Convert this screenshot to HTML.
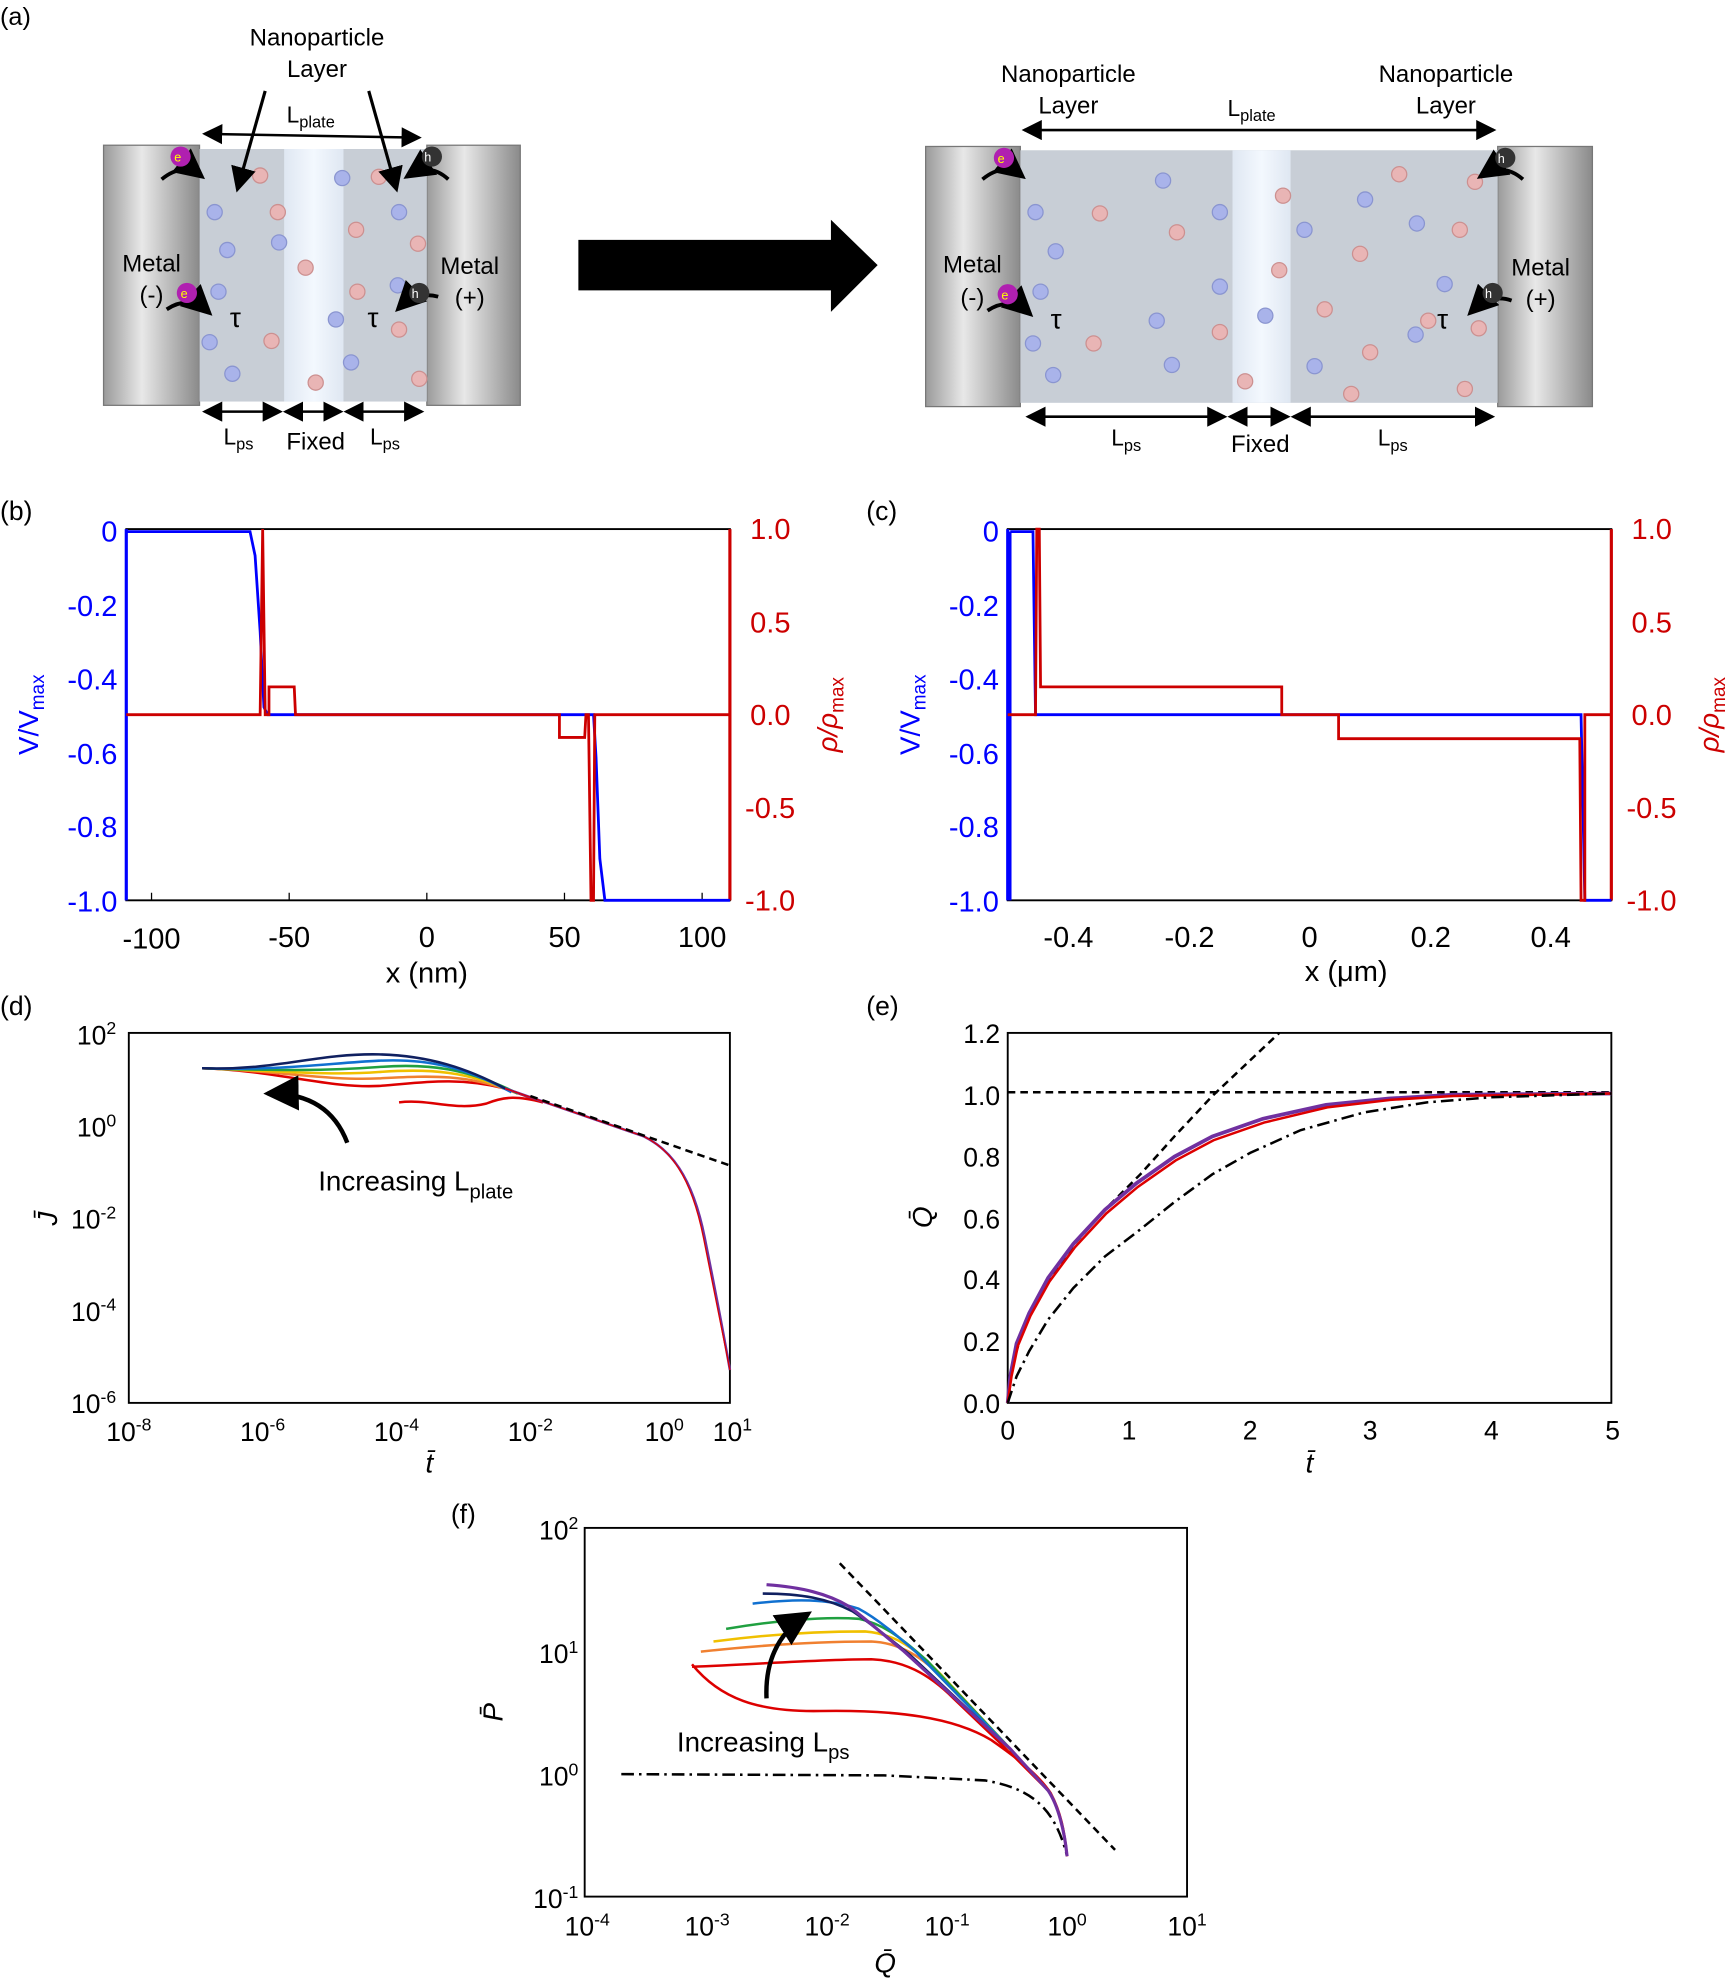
<!DOCTYPE html>
<html><head><meta charset="utf-8"><style>
html,body{margin:0;padding:0;background:#fff}
svg{display:block}
text{font-family:"Liberation Sans",sans-serif}
</style></head><body>
<svg width="1725" height="1985" viewBox="0 0 1366 1572" preserveAspectRatio="none" xmlns="http://www.w3.org/2000/svg">
<defs>
<linearGradient id="mL" x1="0" x2="1"><stop offset="0" stop-color="#9a9a9a"/><stop offset="0.4" stop-color="#e8e8e8"/><stop offset="1" stop-color="#8a8a8a"/></linearGradient>
<linearGradient id="strip" x1="0" x2="1"><stop offset="0" stop-color="#dfe7f2"/><stop offset="0.5" stop-color="#f3f8fe"/><stop offset="1" stop-color="#dfe7f2"/></linearGradient>
<marker id="ah" markerWidth="8" markerHeight="8" refX="7" refY="4" orient="auto"><path d="M0,0 L8,4 L0,8 z" fill="#000"/></marker>
<marker id="ah2" markerWidth="8" markerHeight="8" refX="7" refY="4" orient="auto-start-reverse"><path d="M0,0 L8,4 L0,8 z" fill="#000"/></marker>
</defs>
<rect width="1366" height="1572" fill="#fff"/>

<!-- (a) -->
<text x="0" y="20" font-size="20">(a)</text>
<rect x="82" y="115" width="76" height="206" fill="url(#mL)" stroke="#777"/>
<rect x="338" y="115" width="74" height="206" fill="url(#mL)" stroke="#777"/>
<rect x="158" y="118" width="180" height="200" fill="#c8ced6"/>
<rect x="225" y="118" width="47" height="200" fill="url(#strip)"/>
<g fill="#a9b3ea" stroke="#8a95d0">
<circle cx="170" cy="168" r="6"/><circle cx="180" cy="198" r="6"/><circle cx="221" cy="192" r="6"/><circle cx="173" cy="231" r="6"/><circle cx="166" cy="271" r="6"/><circle cx="184" cy="296" r="6"/><circle cx="271" cy="141" r="6"/><circle cx="266" cy="253" r="6"/><circle cx="316" cy="168" r="6"/><circle cx="278" cy="287" r="6"/><circle cx="315" cy="226" r="6"/>
</g>
<g fill="#e9b5b5" stroke="#cc9090">
<circle cx="206" cy="139" r="6"/><circle cx="220" cy="168" r="6"/><circle cx="242" cy="212" r="6"/><circle cx="215" cy="270" r="6"/><circle cx="250" cy="303" r="6"/><circle cx="282" cy="182" r="6"/><circle cx="331" cy="193" r="6"/><circle cx="283" cy="231" r="6"/><circle cx="316" cy="261" r="6"/><circle cx="332" cy="300" r="6"/><circle cx="300" cy="140" r="6"/>
</g>
<text x="120" y="215" font-size="19" text-anchor="middle">Metal</text><text x="120" y="240" font-size="19" text-anchor="middle">(-)</text>
<text x="372" y="217" font-size="19" text-anchor="middle">Metal</text><text x="372" y="242" font-size="19" text-anchor="middle">(+)</text>
<text x="251" y="36" font-size="19" text-anchor="middle">Nanoparticle</text><text x="251" y="61" font-size="19" text-anchor="middle">Layer</text>
<line x1="210" y1="72" x2="188" y2="150" stroke="#000" stroke-width="2.5" marker-end="url(#ah)"/>
<line x1="292" y1="72" x2="314" y2="150" stroke="#000" stroke-width="2.5" marker-end="url(#ah)"/>
<line x1="162" y1="106" x2="332" y2="109" stroke="#000" stroke-width="2" marker-start="url(#ah2)" marker-end="url(#ah2)"/>
<text x="227" y="97" font-size="18">L<tspan font-size="13" dy="4">plate</tspan></text>
<line x1="162" y1="326" x2="222" y2="326" stroke="#000" stroke-width="2" marker-start="url(#ah2)" marker-end="url(#ah2)"/>
<line x1="226" y1="326" x2="270" y2="326" stroke="#000" stroke-width="2" marker-start="url(#ah2)" marker-end="url(#ah2)"/>
<line x1="274" y1="326" x2="334" y2="326" stroke="#000" stroke-width="2" marker-start="url(#ah2)" marker-end="url(#ah2)"/>
<text x="177" y="352" font-size="18">L<tspan font-size="13" dy="4">ps</tspan></text>
<text x="250" y="356" font-size="19" text-anchor="middle">Fixed</text>
<text x="293" y="352" font-size="18">L<tspan font-size="13" dy="4">ps</tspan></text>
<g font-size="22"><text x="182" y="259">τ</text><text x="291" y="259">τ</text></g>
<g fill="none" stroke="#000" stroke-width="3">
<path d="M128,142 Q145,128 160,140" marker-end="url(#ah)"/><path d="M132,245 Q150,233 166,248" marker-end="url(#ah)"/>
<path d="M355,142 Q340,128 322,140" marker-end="url(#ah)"/><path d="M347,235 Q330,230 315,245" marker-end="url(#ah)"/>
</g>
<circle cx="143" cy="124" r="8" fill="#b020b0"/><circle cx="148" cy="232" r="8" fill="#b020b0"/>
<circle cx="342" cy="124" r="8" fill="#333"/><circle cx="332" cy="232" r="8" fill="#333"/>
<g fill="#ff0" font-size="10"><text x="138" y="128">e</text><text x="143" y="236">e</text></g>
<g fill="#fff" font-size="10"><text x="336" y="128">h</text><text x="326" y="236">h</text></g>

<path d="M458,190 L658,190 L658,174 L695,210 L658,247 L658,230 L458,230 Z" fill="#000"/>

<rect x="733" y="116" width="75" height="206" fill="url(#mL)" stroke="#777"/>
<rect x="1186" y="116" width="75" height="206" fill="url(#mL)" stroke="#777"/>
<rect x="808" y="119" width="378" height="200" fill="#c8ced6"/>
<rect x="976" y="119" width="46" height="200" fill="url(#strip)"/>
<g fill="#a9b3ea" stroke="#8a95d0">
<circle cx="820" cy="168" r="6"/><circle cx="836" cy="199" r="6"/><circle cx="824" cy="231" r="6"/><circle cx="818" cy="272" r="6"/><circle cx="834" cy="297" r="6"/><circle cx="921" cy="143" r="6"/><circle cx="966" cy="168" r="6"/><circle cx="966" cy="227" r="6"/><circle cx="916" cy="254" r="6"/><circle cx="928" cy="289" r="6"/><circle cx="1002" cy="250" r="6"/><circle cx="1033" cy="182" r="6"/><circle cx="1081" cy="158" r="6"/><circle cx="1122" cy="177" r="6"/><circle cx="1144" cy="225" r="6"/><circle cx="1121" cy="265" r="6"/><circle cx="1041" cy="290" r="6"/>
</g>
<g fill="#e9b5b5" stroke="#cc9090">
<circle cx="871" cy="169" r="6"/><circle cx="932" cy="184" r="6"/><circle cx="866" cy="272" r="6"/><circle cx="966" cy="263" r="6"/><circle cx="1016" cy="155" r="6"/><circle cx="1013" cy="214" r="6"/><circle cx="986" cy="302" r="6"/><circle cx="1077" cy="201" r="6"/><circle cx="1049" cy="245" r="6"/><circle cx="1085" cy="279" r="6"/><circle cx="1070" cy="312" r="6"/><circle cx="1108" cy="138" r="6"/><circle cx="1156" cy="182" r="6"/><circle cx="1131" cy="254" r="6"/><circle cx="1160" cy="308" r="6"/><circle cx="1168" cy="144" r="6"/><circle cx="1171" cy="260" r="6"/>
</g>
<text x="770" y="216" font-size="19" text-anchor="middle">Metal</text><text x="770" y="242" font-size="19" text-anchor="middle">(-)</text>
<text x="1220" y="218" font-size="19" text-anchor="middle">Metal</text><text x="1220" y="243" font-size="19" text-anchor="middle">(+)</text>
<text x="846" y="65" font-size="19" text-anchor="middle">Nanoparticle</text><text x="846" y="90" font-size="19" text-anchor="middle">Layer</text>
<text x="1145" y="65" font-size="19" text-anchor="middle">Nanoparticle</text><text x="1145" y="90" font-size="19" text-anchor="middle">Layer</text>
<line x1="811" y1="103" x2="1183" y2="103" stroke="#000" stroke-width="2" marker-start="url(#ah2)" marker-end="url(#ah2)"/>
<text x="972" y="92" font-size="18">L<tspan font-size="13" dy="4">plate</tspan></text>
<line x1="814" y1="330" x2="970" y2="330" stroke="#000" stroke-width="2" marker-start="url(#ah2)" marker-end="url(#ah2)"/>
<line x1="974" y1="330" x2="1020" y2="330" stroke="#000" stroke-width="2" marker-start="url(#ah2)" marker-end="url(#ah2)"/>
<line x1="1024" y1="330" x2="1182" y2="330" stroke="#000" stroke-width="2" marker-start="url(#ah2)" marker-end="url(#ah2)"/>
<text x="880" y="353" font-size="18">L<tspan font-size="13" dy="4">ps</tspan></text>
<text x="998" y="358" font-size="19" text-anchor="middle">Fixed</text>
<text x="1091" y="353" font-size="18">L<tspan font-size="13" dy="4">ps</tspan></text>
<g font-size="22"><text x="832" y="260">τ</text><text x="1138" y="260">τ</text></g>
<g fill="none" stroke="#000" stroke-width="3">
<path d="M778,142 Q795,128 810,140" marker-end="url(#ah)"/><path d="M782,246 Q800,234 816,249" marker-end="url(#ah)"/>
<path d="M1206,142 Q1190,128 1172,140" marker-end="url(#ah)"/><path d="M1197,238 Q1180,232 1164,248" marker-end="url(#ah)"/>
</g>
<circle cx="795" cy="125" r="8" fill="#b020b0"/><circle cx="798" cy="233" r="8" fill="#b020b0"/>
<circle cx="1192" cy="125" r="8" fill="#333"/><circle cx="1182" cy="232" r="8" fill="#333"/>
<g fill="#ff0" font-size="10"><text x="790" y="129">e</text><text x="793" y="237">e</text></g>
<g fill="#fff" font-size="10"><text x="1186" y="129">h</text><text x="1176" y="236">h</text></g>

<!-- (b) -->
<text x="0" y="412" font-size="21">(b)</text>
<rect x="100" y="419" width="478" height="294" fill="none" stroke="#000" stroke-width="1.5"/>
<line x1="100" y1="419" x2="100" y2="713" stroke="#00f" stroke-width="2.5"/>
<line x1="578" y1="419" x2="578" y2="713" stroke="#c00" stroke-width="2.5"/>
<g font-size="23" fill="#00f" text-anchor="end"><text x="93" y="429">0</text><text x="93" y="488">-0.2</text><text x="93" y="546">-0.4</text><text x="93" y="605">-0.6</text><text x="93" y="663">-0.8</text><text x="93" y="722">-1.0</text></g>
<g font-size="23" fill="#c00"><text x="594" y="427">1.0</text><text x="594" y="501">0.5</text><text x="594" y="574">0.0</text><text x="590" y="648">-0.5</text><text x="590" y="721">-1.0</text></g>
<g font-size="23" text-anchor="middle"><text x="120" y="751">-100</text><text x="229" y="750">-50</text><text x="338" y="750">0</text><text x="447" y="750">50</text><text x="556" y="750">100</text><text x="338" y="778">x (nm)</text></g>
<text transform="translate(30,566) rotate(-90)" font-size="22" fill="#00f" text-anchor="middle">V/V<tspan font-size="15" dy="5">max</tspan></text>
<text transform="translate(663,566) rotate(-90)" font-size="22" fill="#c00" text-anchor="middle" font-style="italic">ρ/ρ<tspan font-size="15" dy="5" font-style="normal">max</tspan></text>
<g stroke="#000" stroke-width="1"><line x1="120" y1="713" x2="120" y2="707"/><line x1="229" y1="713" x2="229" y2="707"/><line x1="338" y1="713" x2="338" y2="707"/><line x1="447" y1="713" x2="447" y2="707"/><line x1="556" y1="713" x2="556" y2="707"/></g>
<polyline fill="none" stroke="#00f" stroke-width="2.2" points="100,421 198,421 202,440 206,500 209,560 212,566 470,566 472,600 475,680 479,713 578,713"/>
<polyline fill="none" stroke="#c00" stroke-width="2.2" points="100,566 206,566 208,419 210,566 213,566 213,544 233,544 234,566 443,566 443,584 463,584 464,566 466,566 468,713 470,713 471,566 578,566"/>

<!-- (c) -->
<text x="686" y="412" font-size="21">(c)</text>
<rect x="798" y="419" width="478" height="294" fill="none" stroke="#000" stroke-width="1.5"/>
<line x1="798" y1="419" x2="798" y2="713" stroke="#00f" stroke-width="2.5"/>
<line x1="1276" y1="419" x2="1276" y2="713" stroke="#c00" stroke-width="2.5"/>
<g font-size="23" fill="#00f" text-anchor="end"><text x="791" y="429">0</text><text x="791" y="488">-0.2</text><text x="791" y="546">-0.4</text><text x="791" y="605">-0.6</text><text x="791" y="663">-0.8</text><text x="791" y="722">-1.0</text></g>
<g font-size="23" fill="#c00"><text x="1292" y="427">1.0</text><text x="1292" y="501">0.5</text><text x="1292" y="574">0.0</text><text x="1288" y="648">-0.5</text><text x="1288" y="721">-1.0</text></g>
<g font-size="23" text-anchor="middle"><text x="846" y="750">-0.4</text><text x="942" y="750">-0.2</text><text x="1037" y="750">0</text><text x="1133" y="750">0.2</text><text x="1228" y="750">0.4</text><text x="1066" y="777">x (μm)</text></g>
<text transform="translate(728,566) rotate(-90)" font-size="22" fill="#00f" text-anchor="middle">V/V<tspan font-size="15" dy="5">max</tspan></text>
<text transform="translate(1361,566) rotate(-90)" font-size="22" fill="#c00" text-anchor="middle" font-style="italic">ρ/ρ<tspan font-size="15" dy="5" font-style="normal">max</tspan></text>
<polyline fill="none" stroke="#00f" stroke-width="2.2" points="800,421 818,421 820,566 1252,566 1255,713 1276,713"/>
<line x1="800" y1="421" x2="800" y2="713" stroke="#00f" stroke-width="2"/>
<polyline fill="none" stroke="#c00" stroke-width="2.2" points="798,566 820,566 821,419 823,419 824,544 1015,544 1015,566 1060,566 1060,585 1251,585 1252,713 1255,713 1255,566 1276,566"/>

<!-- (d) -->
<text x="0" y="804" font-size="21">(d)</text>
<rect x="102" y="818" width="476" height="293" fill="none" stroke="#000" stroke-width="1.5"/>
<g font-size="21" text-anchor="end"><text x="92" y="827">10<tspan font-size="14" dy="-8">2</tspan></text><text x="92" y="900">10<tspan font-size="14" dy="-8">0</tspan></text><text x="92" y="973">10<tspan font-size="14" dy="-8">-2</tspan></text><text x="92" y="1046">10<tspan font-size="14" dy="-8">-4</tspan></text><text x="92" y="1119">10<tspan font-size="14" dy="-8">-6</tspan></text></g>
<g font-size="21" text-anchor="middle"><text x="102" y="1141">10<tspan font-size="14" dy="-8">-8</tspan></text><text x="208" y="1141">10<tspan font-size="14" dy="-8">-6</tspan></text><text x="314" y="1141">10<tspan font-size="14" dy="-8">-4</tspan></text><text x="420" y="1141">10<tspan font-size="14" dy="-8">-2</tspan></text><text x="526" y="1141">10<tspan font-size="14" dy="-8">0</tspan></text><text x="580" y="1141">10<tspan font-size="14" dy="-8">1</tspan></text></g>
<text x="340" y="1166" font-size="22" font-style="italic" text-anchor="middle">t̄</text>
<text transform="translate(45,965) rotate(-90)" font-size="22" font-style="italic" text-anchor="middle">J̄</text>
<g fill="none" stroke-width="2">
<path d="M316,873 C340,870 360,880 385,874 C400,868 410,868 430,873" stroke="#d00"/>
<path d="M160,846 C220,848 260,862 300,860 C330,858 360,852 400,862 L430,873" stroke="#d00"/>
<path d="M160,846 C220,848 260,856 300,854 C340,852 370,850 410,866" stroke="#f08030"/>
<path d="M160,846 C220,848 260,852 300,849 C340,846 370,848 410,866" stroke="#f0c000"/>
<path d="M160,846 C220,848 260,848 300,845 C340,842 370,846 410,866" stroke="#20a040"/>
<path d="M160,846 C220,848 260,842 300,840 C340,838 370,846 405,865" stroke="#1070d0"/>
<path d="M160,846 C220,848 250,834 300,835 C340,836 370,846 400,862" stroke="#102060"/>
<path d="M400,862 L510,900 C530,910 548,930 558,980 C566,1020 572,1050 578,1085" stroke="#7030a0"/>
<path d="M400,862 L510,900 C530,910 547,930 557,980 C565,1020 571,1050 578,1085" stroke="#d00" stroke-width="1"/>
</g>
<line x1="420" y1="868" x2="578" y2="923" stroke="#000" stroke-width="2" stroke-dasharray="6,4"/>
<path d="M275,905 Q260,865 212,866" fill="none" stroke="#000" stroke-width="3.5" marker-end="url(#ah)"/>
<text x="252" y="943" font-size="22">Increasing L<tspan font-size="16" dy="6">plate</tspan></text>

<!-- (e) -->
<text x="686" y="804" font-size="21">(e)</text>
<rect x="798" y="818" width="478" height="293" fill="none" stroke="#000" stroke-width="1.5"/>
<g font-size="21" text-anchor="end"><text x="792" y="826">1.2</text><text x="792" y="875">1.0</text><text x="792" y="924">0.8</text><text x="792" y="973">0.6</text><text x="792" y="1021">0.4</text><text x="792" y="1070">0.2</text><text x="792" y="1119">0.0</text></g>
<g font-size="21" text-anchor="middle"><text x="798" y="1140">0</text><text x="894" y="1140">1</text><text x="990" y="1140">2</text><text x="1085" y="1140">3</text><text x="1181" y="1140">4</text><text x="1277" y="1140">5</text></g>
<text x="1037" y="1166" font-size="22" font-style="italic" text-anchor="middle">t̄</text>
<text transform="translate(738,964) rotate(-90)" font-size="22" font-style="italic" text-anchor="middle">Q̄</text>
<line x1="798" y1="865" x2="1276" y2="865" stroke="#000" stroke-width="2" stroke-dasharray="6,4"/>
<path d="M798,1111 L802,1080 L808,1060 L818,1036 L832,1011 L851,985 L875,958 L903,930 L930,900 L960,868 L1013,818" fill="none" stroke="#000" stroke-width="2" stroke-dasharray="6,4"/>
<polyline fill="none" stroke="#7030a0" stroke-width="3" points="798,1111 800,1090 805,1064 815,1040 830,1012 850,985 875,958 900,937 930,916 960,900 1000,886 1050,875 1100,870 1150,867 1276,866"/>
<polyline fill="none" stroke="#d00" stroke-width="2" points="798,1111 801,1090 806,1066 816,1042 831,1015 851,988 876,961 901,940 931,919 961,903 1001,889 1051,877 1101,871 1151,868 1276,866"/>
<polyline fill="none" stroke="#000" stroke-width="2" stroke-dasharray="10,4,2,4" points="798,1111 805,1090 815,1070 830,1045 850,1020 875,995 900,976 930,952 960,930 990,913 1030,895 1080,881 1130,873 1180,869 1276,866"/>

<!-- (f) -->
<text x="357" y="1206" font-size="21">(f)</text>
<rect x="463" y="1210" width="477" height="292" fill="none" stroke="#000" stroke-width="1.5"/>
<g font-size="21" text-anchor="end"><text x="458" y="1219">10<tspan font-size="14" dy="-8">2</tspan></text><text x="458" y="1317">10<tspan font-size="14" dy="-8">1</tspan></text><text x="458" y="1414">10<tspan font-size="14" dy="-8">0</tspan></text><text x="458" y="1511">10<tspan font-size="14" dy="-8">-1</tspan></text></g>
<g font-size="21" text-anchor="middle"><text x="465" y="1533">10<tspan font-size="14" dy="-8">-4</tspan></text><text x="560" y="1533">10<tspan font-size="14" dy="-8">-3</tspan></text><text x="655" y="1533">10<tspan font-size="14" dy="-8">-2</tspan></text><text x="750" y="1533">10<tspan font-size="14" dy="-8">-1</tspan></text><text x="845" y="1533">10<tspan font-size="14" dy="-8">0</tspan></text><text x="940" y="1533">10<tspan font-size="14" dy="-8">1</tspan></text></g>
<text x="701" y="1562" font-size="22" font-style="italic" text-anchor="middle">Q̄</text>
<text transform="translate(398,1356) rotate(-90)" font-size="22" font-style="italic" text-anchor="middle">P̄</text>
<line x1="665" y1="1238" x2="883" y2="1465" stroke="#000" stroke-width="2" stroke-dasharray="6,4"/>
<path d="M492,1405 L700,1406 L780,1410 C815,1416 835,1430 845,1470" fill="none" stroke="#000" stroke-width="2" stroke-dasharray="10,4,2,4"/>
<g fill="none" stroke-width="2">
<path d="M548,1318 C570,1345 600,1356 650,1355 C710,1354 755,1360 785,1378 C805,1392 822,1405 832,1420 C840,1435 843,1450 845,1470" stroke="#d00"/>
<path d="M548,1320 C600,1318 650,1314 690,1314 C715,1315 735,1325 755,1345 L800,1388 L830,1418" stroke="#d00"/>
<path d="M555,1308 C610,1302 650,1300 690,1300 C715,1301 735,1315 755,1338 L800,1386" stroke="#f08030"/>
<path d="M565,1300 C610,1294 650,1292 685,1292 C710,1294 725,1306 745,1326 L800,1385" stroke="#f0c000"/>
<path d="M575,1290 C610,1284 650,1280 680,1282 C700,1286 715,1298 735,1316 L800,1385" stroke="#20a040"/>
<path d="M596,1270 C630,1266 655,1266 680,1274 C695,1282 710,1295 725,1308 L800,1385" stroke="#1070d0"/>
<path d="M604,1262 C635,1262 655,1266 675,1276 C690,1286 705,1298 720,1310 L800,1385" stroke="#102060"/>
<path d="M607,1255 C635,1257 655,1262 672,1272 C688,1284 700,1295 715,1307 L800,1385 L830,1418 C838,1430 843,1450 845,1470" stroke="#7030a0" stroke-width="2.5"/>
</g>
<path d="M607,1345 Q605,1300 640,1278" fill="none" stroke="#000" stroke-width="3.5" marker-end="url(#ah)"/>
<text x="536" y="1387" font-size="22">Increasing L<tspan font-size="16" dy="6">ps</tspan></text>
</svg>
</body></html>
